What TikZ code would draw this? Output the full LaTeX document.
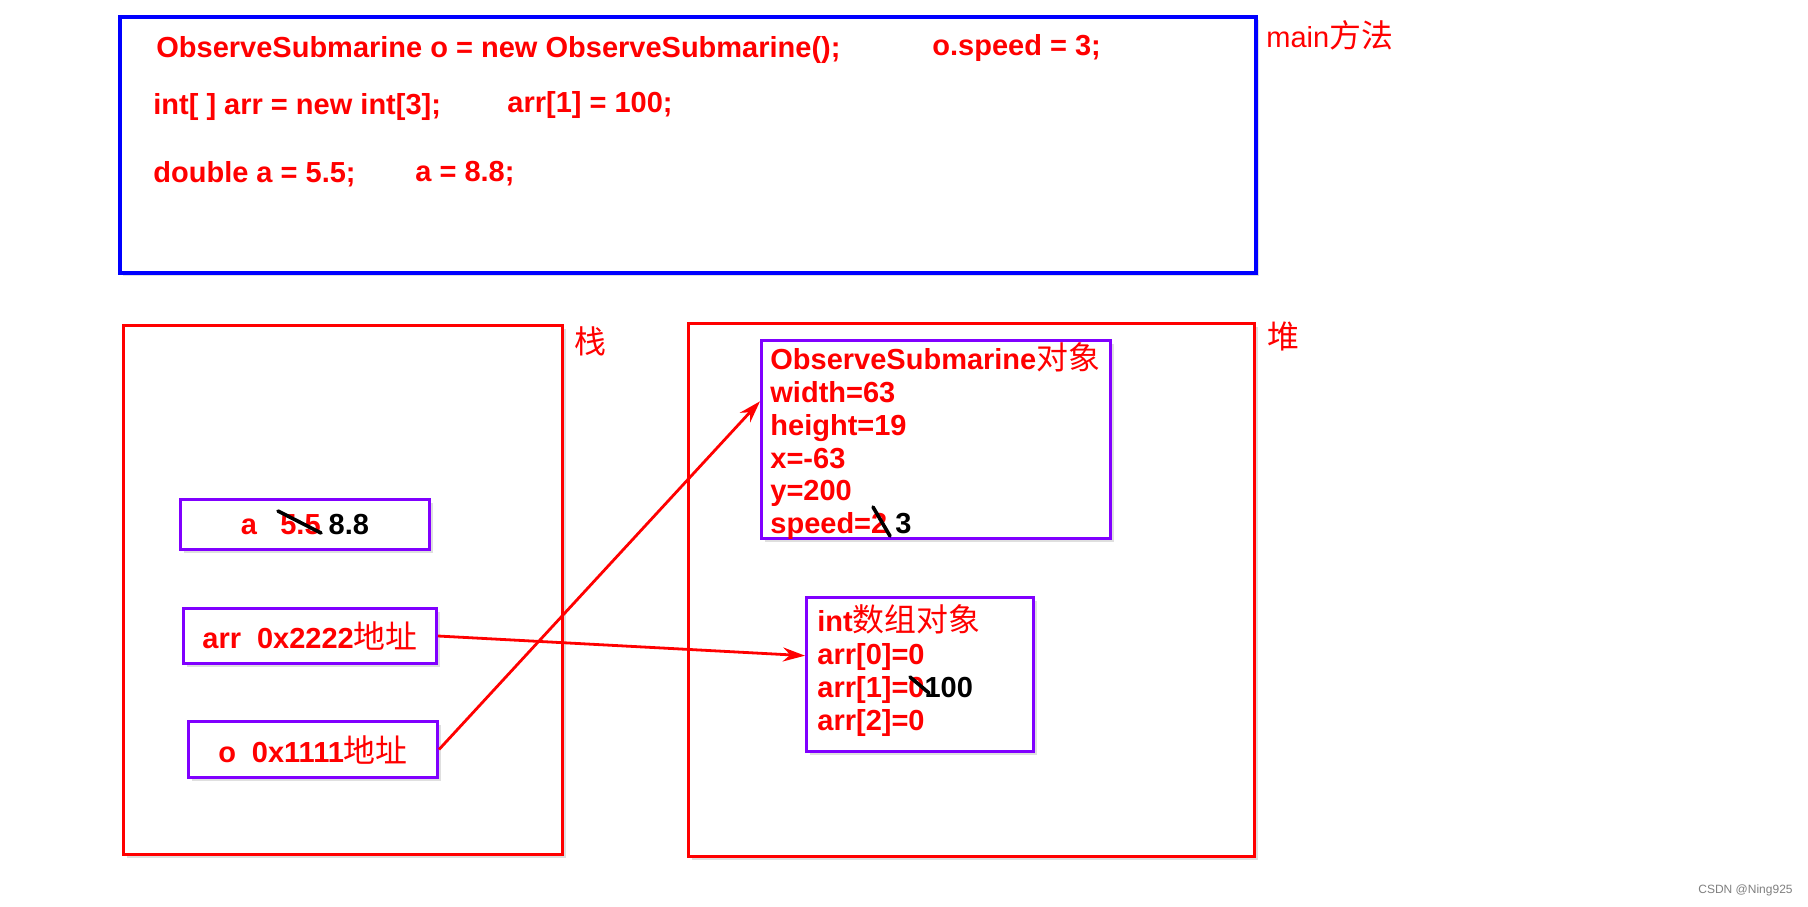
\documentclass[tikz,border=0pt]{standalone}
\usepackage{fontspec}
\setmainfont{Liberation Sans}
\newfontfamily\cjk[Scale=1.1]{Noto Sans CJK SC}
\newcommand{\hanzi}[1]{{\cjk\mdseries #1}}
\usetikzlibrary{arrows.meta,calc,shadows}
\definecolor{mainblue}{RGB}{0,0,255}
\definecolor{codered}{RGB}{255,0,0}
\definecolor{cellviolet}{RGB}{128,0,255}

\begin{document}
\begin{tikzpicture}[x=0.5pt,y=-0.5pt,
  code/.style={anchor=west,inner sep=0pt,text=codered,font=\fontsize{14.5}{16.5}\selectfont\bfseries},
  tag/.style={anchor=west,inner sep=0pt,text=codered,font=\fontsize{14.5}{16.5}\selectfont},
  frame/.style={draw=#1,fill=white,anchor=north west,inner sep=0pt,line width=1.5pt,
    drop shadow={shadow xshift=1.5pt,shadow yshift=-1.5pt,opacity=.25}},
  cell/.style={frame=cellviolet,anchor=north west,text=codered,font=\fontsize{14.5}{16.5}\selectfont\bfseries},
  fields/.style={anchor=north west,inner sep=0pt,align=left,text=codered,font=\fontsize{14.5}{16.45}\selectfont\bfseries},
  ref/.style={draw=codered,line width=1.4pt,-{Stealth[length=11pt,width=7pt]}},
  strike/.style={draw=black,line width=1.8pt,line cap=round}]
\useasboundingbox[fill=white] (0,0) rectangle (1808,906);

% main method
\node[frame=mainblue,line width=2pt,minimum width=568pt,minimum height=128pt] (main) at (118,15) {};
\node[tag] (mainlbl) at (1266,35) {main\hanzi{方法}};
\node[code] (newobj) at (156,50) {ObserveSubmarine o = new ObserveSubmarine();};
\node[code] (setspeed) at (932,48) {o.speed = 3;};
\node[code] (newarr) at (153,107) {int[ ] arr = new int[3];};
\node[code] (setarr) at (507,105) {arr[1] = 100;};
\node[code] (newa) at (153,174) {double a = 5.5;};
\node[code] (seta) at (415,174) {a = 8.8;};

% stack
\node[frame=codered,minimum width=219.5pt,minimum height=264.5pt] (stack) at (122,324) {};
\node[tag] (stacklbl) at (574,341) {\hanzi{栈}};
\node[cell,minimum width=124.5pt,minimum height=25pt] (avar) at (179,498) {a\hspace{0.8em}5.5 \textcolor{black}{8.8}};
\node[cell,minimum width=126.5pt,minimum height=27.5pt] (arrvar) at (182,607) {arr\hspace{0.55em}0x2222\hanzi{地址}\hspace{4pt}};
\node[cell,minimum width=124.5pt,minimum height=28pt] (ovar) at (187,720) {o\hspace{0.55em}0x1111\hanzi{地址}\hspace{2pt}};

% heap
\node[frame=codered,minimum width=283pt,minimum height=266.5pt] (heap) at (687,322) {};
\node[tag] (heaplbl) at (1267,336) {\hanzi{堆}};
\node[cell,minimum width=174.5pt,minimum height=99pt] (subobj) at (760,339) {};
\node[fields] (subfields) at (770,342) {ObserveSubmarine\hanzi{对象}\\width=63\\height=19\\x=-63\\y=200\\speed=2 \textcolor{black}{3}};
\node[cell,minimum width=113.5pt,minimum height=77pt] (arrobj) at (805,596) {};
\node[fields] (arrfields) at (817,604) {int\hanzi{数组对象}\\arr[0]=0\\arr[1]=0\textcolor{black}{100}\\arr[2]=0};

% references
\draw[ref] (ovar.east) -- ($(subobj.north west)!0.31!(subobj.south west)$);
\draw[ref] (arrvar.east) -- ($(arrobj.north west)!0.38!(arrobj.south west)$);

% crossed out values
\draw[strike] (278,511) -- (321,533);
\draw[strike] (873,507) -- (890,536);
\draw[strike] (910,677) -- (929,693);

\node[anchor=east,inner sep=0pt,text=gray,font=\fontsize{6}{7}\selectfont] (mark) at (1793,890) {CSDN @Ning925};
\end{tikzpicture}
\end{document}
